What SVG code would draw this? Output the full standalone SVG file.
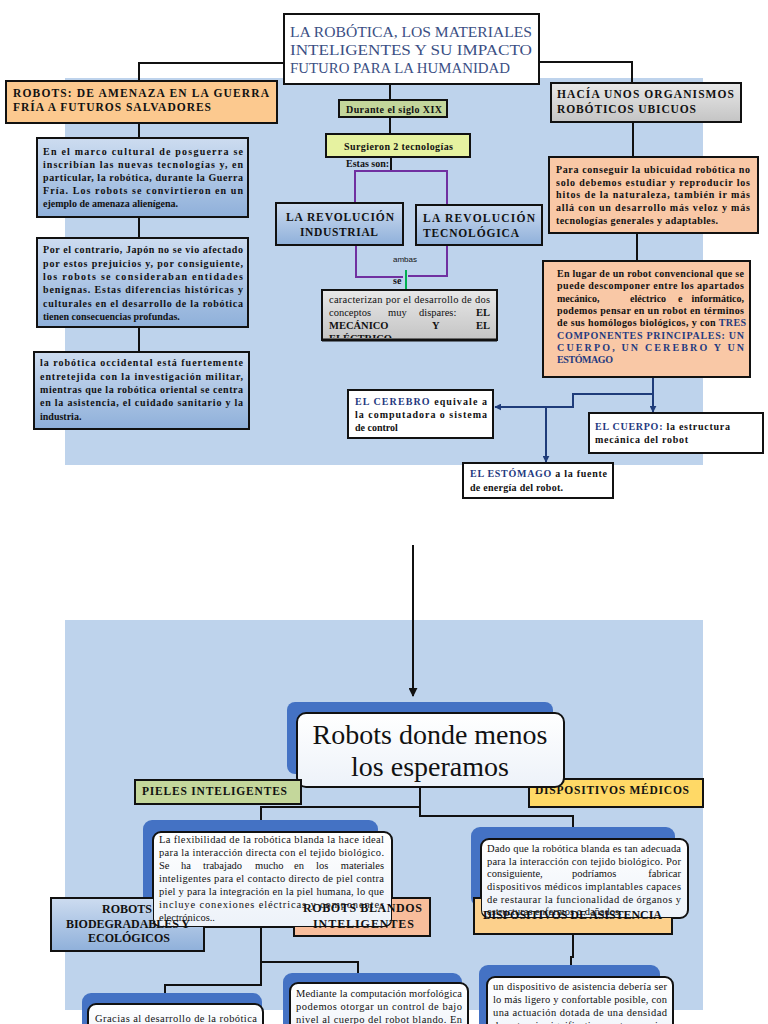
<svg xmlns="http://www.w3.org/2000/svg" width="768" height="1024" viewBox="0 0 768 1024">
<style>
.b{font-family:"Liberation Serif",serif;font-weight:bold;font-size:10px;fill:#111}
.h{font-family:"Liberation Serif",serif;font-weight:bold;font-size:11.5px;fill:#111}
.h12{font-family:"Liberation Serif",serif;font-weight:bold;font-size:12px;fill:#111}
.r{font-family:"Liberation Serif",serif;font-size:10.5px;fill:#111}
.tt{font-family:"Liberation Serif",serif;font-size:14.5px;fill:#3b4f84}
.big{font-family:"Liberation Serif",serif;font-size:28px;fill:#111}
.s{font-family:"Liberation Sans",sans-serif;font-size:8px;fill:#111}
.nv{fill:#1f3a80}
.e{text-anchor:end}
.bx{stroke:#111;stroke-width:2}
.ln{stroke:#111;stroke-width:2;fill:none}
.pl{stroke:#7030a0;stroke-width:2;fill:none}
.nl{stroke:#1f3c7a;stroke-width:2;fill:none}
.card{fill:#4472c4}
.wb{fill:url(#gW);stroke:#111;stroke-width:2}
</style>
<defs>
<linearGradient id="gB" x1="0" y1="0" x2="0" y2="1"><stop offset="0" stop-color="#cddcf0"/><stop offset="1" stop-color="#8fb0da"/></linearGradient>
<linearGradient id="gG" x1="0" y1="0" x2="0" y2="1"><stop offset="0" stop-color="#e8e8e8"/><stop offset="1" stop-color="#c4c4c4"/></linearGradient>
<linearGradient id="gW" x1="0" y1="0" x2="0" y2="1"><stop offset="0" stop-color="#ffffff"/><stop offset="1" stop-color="#edf2f9"/></linearGradient>
<marker id="aN" viewBox="0 0 10 10" refX="9" refY="5" markerWidth="7" markerHeight="7" markerUnits="userSpaceOnUse" orient="auto"><path d="M0,0 L10,5 L0,10 z" fill="#1f3c7a"/></marker>
<marker id="aK" viewBox="0 0 10 10" refX="9" refY="5" markerWidth="9" markerHeight="9" markerUnits="userSpaceOnUse" orient="auto"><path d="M0,0 L10,5 L0,10 z" fill="#111"/></marker>
<clipPath id="cGray"><rect x="323" y="291" width="173" height="47"/></clipPath>
<clipPath id="cutL"><path clip-rule="evenodd" d="M0,0 H768 V1024 H0 Z M161,832 H384 Q392,832 392,840 V919 Q392,927 384,927 H161 Q153,927 153,919 V840 Q153,832 161,832 Z"/></clipPath>
<clipPath id="cutR"><path clip-rule="evenodd" d="M0,0 H768 V1024 H0 Z M489,839 H680 Q688,839 688,847 V910 Q688,918 680,918 H489 Q481,918 481,910 V847 Q481,839 489,839 Z"/></clipPath>
</defs>

<rect width="768" height="1024" fill="#ffffff"/>
<rect id="bg-top" x="65" y="78" width="638" height="387" fill="#bed3ec"/>
<rect id="bg-bottom" x="65" y="620" width="638" height="390" fill="#bed3ec"/>

<g id="connectors">
<path class="ln" d="M139,80 V63 H284"/>
<path class="ln" d="M539,62 H632 V83"/>
<path class="ln" d="M390,85 V100"/>
<path class="ln" d="M390,117 V134"/>
<path class="ln" d="M391,157 V170"/>
<path class="ln" d="M139,123 V138"/>
<path class="ln" d="M139,217 V238"/>
<path class="ln" d="M139,327 V352"/>
<path class="ln" d="M633,122 V157"/>
<path class="ln" d="M637,233 V262"/>
<path class="pl" d="M355,204 V171 H447 V205"/>
<path class="pl" d="M356,245 V277 H403"/>
<path class="pl" d="M447,245 V276 H408"/>
<path d="M406,270 V289" stroke="#00b050" stroke-width="2"/>
<path class="nl" d="M653,377 V412" marker-end="url(#aN)"/>
<path class="nl" d="M653,394 H573 V407 H495" marker-end="url(#aN)"/>
<path class="nl" d="M546,407 V462" marker-end="url(#aN)"/>
<path class="ln" d="M413,545 V696" marker-end="url(#aK)"/>
<path class="ln" d="M420,787 V816 H573 V828"/>
<path class="ln" d="M420,807 H261 V821"/>
<path class="ln" d="M261,927 V985 H165 V994"/>
<path class="ln" d="M261,962 H358 V974"/>
<path class="ln" d="M573,934 V957 H571 V966"/>
</g>

<g id="title">
<rect class="bx" x="284" y="14" width="255" height="70" fill="#ffffff" stroke-width="2.5"/>
<text class="tt" x="290" y="37" textLength="242" lengthAdjust="spacingAndGlyphs">LA ROBÓTICA, LOS MATERIALES</text>
<text class="tt" x="290" y="55" textLength="242" lengthAdjust="spacingAndGlyphs">INTELIGENTES Y SU IMPACTO</text>
<text class="tt" x="290" y="73" textLength="220" lengthAdjust="spacingAndGlyphs">FUTURO PARA LA HUMANIDAD</text>
</g>

<g id="amenaza">
<rect class="bx" x="6" y="81" width="271" height="42" fill="#fcc98f"/>
<text class="h" x="13" y="97" textLength="256">ROBOTS: DE AMENAZA EN LA GUERRA</text>
<text class="h" x="13" y="111" textLength="198">FRÍA A FUTUROS SALVADORES</text>
</g>

<g id="posguerra">
<rect class="bx" x="37" y="138" width="211" height="79" fill="url(#gB)"/>
<text class="b" x="43" y="155" textLength="200">En el marco cultural de posguerra se</text>
<text class="b" x="43" y="168" textLength="200">inscribían las nuevas tecnologías y, en</text>
<text class="b" x="43" y="181" textLength="200">particular, la robótica, durante la Guerra</text>
<text class="b" x="43" y="194" textLength="200">Fría. Los robots se convirtieron en un</text>
<text class="b" x="43" y="207">ejemplo de amenaza alienígena.</text>
</g>

<g id="japon">
<rect class="bx" x="37" y="238" width="211" height="89" fill="url(#gB)"/>
<text class="b" x="43" y="253" textLength="200">Por el contrario, Japón no se vio afectado</text>
<text class="b" x="43" y="267" textLength="200">por estos prejuicios y, por consiguiente,</text>
<text class="b" x="43" y="280" textLength="200">los robots se consideraban entidades</text>
<text class="b" x="43" y="293" textLength="200">benignas. Estas diferencias históricas y</text>
<text class="b" x="43" y="307" textLength="200">culturales en el desarrollo de la robótica</text>
<text class="b" x="43" y="320">tienen consecuencias profundas.</text>
</g>

<g id="occidental">
<rect class="bx" x="34" y="352" width="215" height="77" fill="url(#gB)"/>
<text class="b" x="40" y="366" textLength="203">la robótica occidental está fuertemente</text>
<text class="b" x="40" y="380" textLength="203">entretejida con la investigación militar,</text>
<text class="b" x="40" y="393" textLength="203">mientras que la robótica oriental se centra</text>
<text class="b" x="40" y="406" textLength="203">en la asistencia, el cuidado sanitario y la</text>
<text class="b" x="40" y="420">industria.</text>
</g>

<g id="siglo">
<rect class="bx" x="339" y="100" width="108" height="17" fill="#c3d69b"/>
<text class="b" x="346" y="113" textLength="96">Durante el siglo XIX</text>
</g>

<g id="surgieron">
<rect class="bx" x="326" y="134" width="144" height="23" fill="#e6f2a0"/>
<text class="b" x="344" y="150" textLength="109">Surgieron 2 tecnologías</text>
<text class="b" x="346" y="167" font-size="8">Estas son:</text>
</g>

<g id="industrial">
<rect class="bx" x="276" y="203" width="127" height="42" fill="url(#gB)"/>
<text class="h" x="286" y="221" textLength="108">LA REVOLUCIÓN</text>
<text class="h" x="300" y="236" textLength="78">INDUSTRIAL</text>
</g>

<g id="tecnologica">
<rect class="bx" x="416" y="205" width="126" height="40" fill="url(#gB)"/>
<text class="h" x="423" y="222" textLength="112">LA REVOLUCIÓN</text>
<text class="h" x="423" y="237" textLength="96">TECNOLÓGICA</text>
</g>

<g id="ambas">
<text class="s" x="405" y="262" text-anchor="middle">ambas</text>
<text class="b" x="393" y="284" font-size="8">se</text>
</g>

<g id="conceptos">
<rect class="bx" x="322" y="290" width="175" height="50" fill="url(#gG)"/>
<path d="M322,340 H497" stroke="#111" stroke-width="3"/>
<g clip-path="url(#cGray)">
<text class="r" x="329" y="303" textLength="161">caracterizan por el desarrollo de dos</text>
<text class="r" x="329" y="316">conceptos</text>
<text class="r" x="388" y="316">muy</text>
<text class="r" x="419" y="316">dispares:</text>
<text class="r e" x="490" y="316" font-weight="bold">EL</text>
<text class="r" x="329" y="329" font-weight="bold">MECÁNICO</text>
<text class="r" x="432" y="329" font-weight="bold">Y</text>
<text class="r e" x="490" y="329" font-weight="bold">EL</text>
<text class="r" x="329" y="342" font-weight="bold">ELÉCTRICO</text>
</g>
</g>

<g id="ubicuos">
<rect class="bx" x="551" y="83" width="190" height="39" fill="url(#gG)"/>
<text class="h" x="557" y="98" textLength="177">HACÍA UNOS ORGANISMOS</text>
<text class="h" x="557" y="113" textLength="139">ROBÓTICOS UBICUOS</text>
</g>

<g id="ubicuidad">
<rect class="bx" x="549" y="157" width="209" height="76" fill="#f9c8a6"/>
<text class="b" x="556" y="173" textLength="194">Para conseguir la ubicuidad robótica no</text>
<text class="b" x="556" y="186" textLength="194">solo debemos estudiar y reproducir los</text>
<text class="b" x="556" y="198" textLength="194">hitos de la naturaleza, también ir más</text>
<text class="b" x="556" y="211" textLength="194">allá con un desarrollo más veloz y más</text>
<text class="b" x="556" y="224" textLength="162">tecnologías generales y adaptables.</text>
</g>

<g id="componentes">
<rect class="bx" x="543" y="261" width="207" height="116" fill="#f9c8a6"/>
<text class="b" x="557" y="277" textLength="187">En lugar de un robot convencional que se</text>
<text class="b" x="557" y="289" textLength="187">puede descomponer entre los apartados</text>
<text class="b" x="557" y="302">mecánico,</text>
<text class="b" x="630" y="302">eléctrico</text>
<text class="b" x="678" y="302">e</text>
<text class="b e" x="744" y="302">informático,</text>
<text class="b" x="557" y="314" textLength="187">podemos pensar en un robot en términos</text>
<text class="b" x="557" y="326" textLength="189">de sus homólogos biológicos, y con <tspan class="nv">TRES</tspan></text>
<text class="b nv" x="557" y="339" textLength="187">COMPONENTES PRINCIPALES: UN</text>
<text class="b nv" x="557" y="351" textLength="187">CUERPO, UN CEREBRO Y UN</text>
<text class="b nv" x="557" y="363" textLength="56">ESTÓMAGO</text>
</g>

<g id="cerebro">
<rect class="bx" x="348" y="390" width="145" height="48" fill="#ffffff"/>
<text class="b" x="355" y="405" textLength="132"><tspan class="nv">EL CEREBRO</tspan> equivale a</text>
<text class="b" x="355" y="418" textLength="132">la computadora o sistema</text>
<text class="b" x="355" y="431">de control</text>
</g>

<g id="cuerpo">
<rect class="bx" x="589" y="413" width="174" height="40" fill="#ffffff"/>
<text class="b" x="595" y="430" textLength="135"><tspan class="nv">EL CUERPO:</tspan> la estructura</text>
<text class="b" x="595" y="443" textLength="93">mecánica del robot</text>
</g>

<g id="estomago">
<rect class="bx" x="463" y="463" width="150" height="35" fill="#ffffff"/>
<text class="b" x="470" y="477" textLength="137"><tspan class="nv">EL ESTÓMAGO</tspan> a la fuente</text>
<text class="b" x="470" y="491" textLength="93">de energía del robot.</text>
</g>

<g id="medicos">
<rect class="bx" x="529" y="779" width="174" height="28" fill="#ffd966"/>
<text class="h" x="535" y="794" font-size="10.5" textLength="154">DISPOSITIVOS MÉDICOS</text>
</g>

<g id="robots-donde">
<rect class="card" x="287" y="702" width="266" height="72" rx="8"/>
<rect class="wb" x="297" y="713" width="267" height="74" rx="9"/>
<text class="big" x="430" y="744" text-anchor="middle">Robots donde menos</text>
<text class="big" x="430" y="776" text-anchor="middle">los esperamos</text>
</g>

<g id="pieles">
<rect class="bx" x="135" y="780" width="166" height="24" fill="#c4d79b"/>
<text class="h" x="142" y="795" font-size="10.5" textLength="145">PIELES INTELIGENTES</text>
</g>

<g id="flexibilidad">
<rect class="card" x="143" y="820" width="235" height="95" rx="9"/>
<rect class="wb" x="153" y="832" width="239" height="95" rx="8"/>
<text class="r" x="159" y="843" textLength="225">La flexibilidad de la robótica blanda la hace ideal</text>
<text class="r" x="159" y="856" textLength="225">para la interacción directa con el tejido biológico.</text>
<text class="r" x="159" y="869">Se</text>
<text class="r" x="181" y="869">ha</text>
<text class="r" x="203" y="869">trabajado</text>
<text class="r" x="255" y="869">mucho</text>
<text class="r" x="294" y="869">en</text>
<text class="r" x="316" y="869">los</text>
<text class="r e" x="384" y="869">materiales</text>
<text class="r" x="159" y="882" textLength="225">inteligentes para el contacto directo de piel contra</text>
<text class="r" x="159" y="895" textLength="225">piel y para la integración en la piel humana, lo que</text>
<text class="r" x="159" y="908" textLength="225">incluye conexiones eléctricas y componentes</text>
<text class="r" x="159" y="921">electrónicos..</text>
</g>

<g id="biodegradables">
<rect class="bx" x="51" y="898" width="153" height="53" fill="url(#gB)" clip-path="url(#cutL)"/>
<text class="h12" x="127" y="913" text-anchor="middle">ROBOTS</text>
<text class="h12" x="128" y="928" text-anchor="middle" textLength="124">BIODEGRADABLES Y</text>
<text class="h12" x="129" y="942" text-anchor="middle">ECOLÓGICOS</text>
</g>

<g id="blandos">
<rect class="bx" x="294" y="898" width="136" height="38" fill="#f8bd9b" clip-path="url(#cutL)"/>
<text class="h12" x="303" y="912" textLength="119">ROBOTS BLANDOS</text>
<text class="h12" x="313" y="928" textLength="101">INTELIGENTES</text>
</g>

<g id="dado-que">
<rect class="card" x="471" y="827" width="204" height="80" rx="9"/>
<rect class="wb" x="481" y="839" width="207" height="79" rx="8"/>
<text class="r" x="487" y="852" textLength="194">Dado que la robótica blanda es tan adecuada</text>
<text class="r" x="487" y="865" textLength="194">para la interacción con tejido biológico. Por</text>
<text class="r" x="487" y="877">consiguiente,</text>
<text class="r" x="572" y="877">podríamos</text>
<text class="r e" x="681" y="877">fabricar</text>
<text class="r" x="487" y="890" textLength="194">dispositivos médicos implantables capaces</text>
<text class="r" x="487" y="903" textLength="194">de restaurar la funcionalidad de órganos y</text>
<text class="r" x="487" y="915">estructuras enfermos o dañados.</text>
</g>

<g id="asistencia">
<rect class="bx" x="474" y="898" width="198" height="36" fill="#fcd08c" clip-path="url(#cutR)"/>
<text class="h12" x="483" y="919" textLength="179">DISPOSITIVOS DE ASISTENCIA</text>
</g>

<g id="gracias">
<rect class="card" x="82" y="993" width="180" height="40" rx="9"/>
<rect class="wb" x="88" y="1004" width="175" height="40" rx="8"/>
<text class="r" x="95" y="1022" textLength="162">Gracias al desarrollo de la robótica</text>
</g>

<g id="mediante">
<rect class="card" x="283" y="973" width="179" height="60" rx="9"/>
<rect class="wb" x="290" y="983" width="178" height="60" rx="8"/>
<text class="r" x="296" y="997" textLength="166">Mediante la computación morfológica</text>
<text class="r" x="296" y="1010" textLength="166">podemos otorgar un control de bajo</text>
<text class="r" x="296" y="1023" textLength="166">nivel al cuerpo del robot blando. En</text>
</g>

<g id="dispositivo-asistencia">
<rect class="card" x="479" y="965" width="181" height="70" rx="9"/>
<rect class="wb" x="487" y="977" width="186" height="70" rx="8"/>
<text class="r" x="493" y="990" textLength="174">un dispositivo de asistencia debería ser</text>
<text class="r" x="493" y="1003" textLength="174">lo más ligero y confortable posible, con</text>
<text class="r" x="493" y="1016" textLength="174">una actuación dotada de una densidad</text>
<text class="r" x="493" y="1029" textLength="174">de potencia significativamente superior</text>
</g>
</svg>
